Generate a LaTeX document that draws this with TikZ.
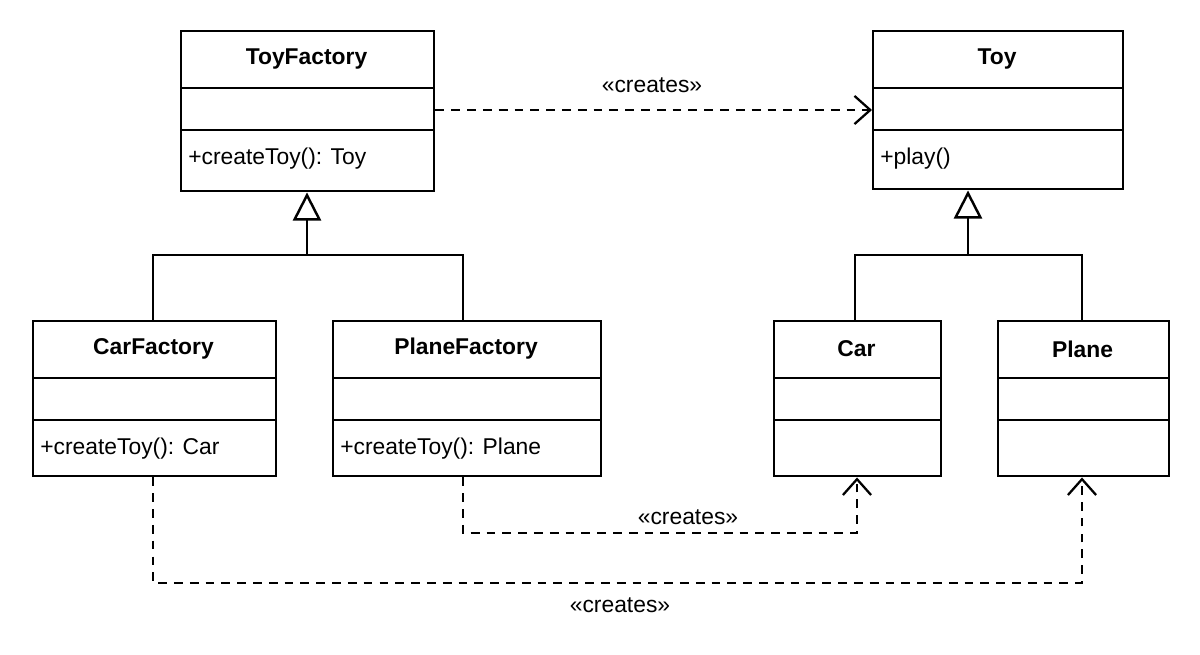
\documentclass[tikz,border=0pt]{standalone}
\usepackage{fontspec}
\setmainfont{Liberation Sans}
\usetikzlibrary{arrows.meta}
\tikzset{
  cls/.style={draw, line width=1.4pt, inner sep=0pt},
  ttl/.style={font=\fontsize{13}{15}\selectfont\bfseries},
  op/.style={font=\fontsize{13}{15}\selectfont, anchor=west, inner sep=0pt},
  dep/.style={line width=1.3pt, dash pattern=on 5pt off 4pt, -{Straight Barb[length=9pt,width=16pt,line width=1.3pt]}},
  gen/.style={line width=1.4pt, -{Triangle[open,length=16pt,width=16pt,line width=1.4pt,fill=white]}},
  lbl/.style={font=\fontsize{13}{15}\selectfont}
}
% box: name, x1, y1, x2, y2, title, operation
\newcommand{\umlbox}[7]{
  \node[cls, minimum width={(#4-#2)*0.02cm}, minimum height={(#5-#3)*0.02cm}, anchor=north west] (#1) at (#2,#3) {};
  \draw[line width=1.4pt] (#2,#3+58) -- (#4,#3+58);
  \draw[line width=1.4pt] (#2,#3+100) -- (#4,#3+100);
  \node[ttl] (#1-t) at ({(#2+#4)/2},#3+29) {#6};
  \node[op] (#1-o) at (#2+8,#3+129) {#7};
}
\begin{document}
\begin{tikzpicture}[x=0.02cm, y=-0.02cm]
  \useasboundingbox[fill=white] (0,0) rectangle (1200,655);
  \umlbox{tf}{180}{30}{433}{190}{ToyFactory}{+createToy(): Toy}
  \umlbox{toy}{872}{30}{1122}{188}{Toy}{+play()}
  \umlbox{cf}{32}{320}{275}{475}{CarFactory}{+createToy(): Car}
  \umlbox{pf}{332}{320}{600}{475}{PlaneFactory}{+createToy(): Plane}
  \umlbox{car}{773}{320}{940}{475}{Car}{}
  \umlbox{pl}{997}{320}{1168}{475}{Plane}{}
  % generalisation
  \coordinate (j1) at (307,255);
  \coordinate (j2) at (968,255);
  \draw[line width=1.4pt] (cf.north -| 153,0) |- (j1) -| (pf.north -| 463,0);
  \draw[gen] (j1) -- (tf.south -| j1);
  \draw[line width=1.4pt] (car.north -| 855,0) |- (j2) -| (pl.north -| 1082,0);
  \draw[gen] (j2) -- (toy.south -| j2);
  % creates
  \draw[dep] (tf.east |- 0,110) -- (toy.west |- 0,110);
  \node[lbl] (l1) at (652,85) {<<creates>>};
  \coordinate (c1) at (463,533);
  \coordinate (c2) at (153,583);
  \draw[dep] (pf.south -| c1) -- (c1) -| (car.south -| 857,0);
  \node[lbl] (l2) at (688,517) {<<creates>>};
  \draw[dep] (cf.south -| c2) -- (c2) -| (pl.south -| 1082,0);
  \node[lbl] (l3) at (620,605) {<<creates>>};
\end{tikzpicture}
\end{document}
